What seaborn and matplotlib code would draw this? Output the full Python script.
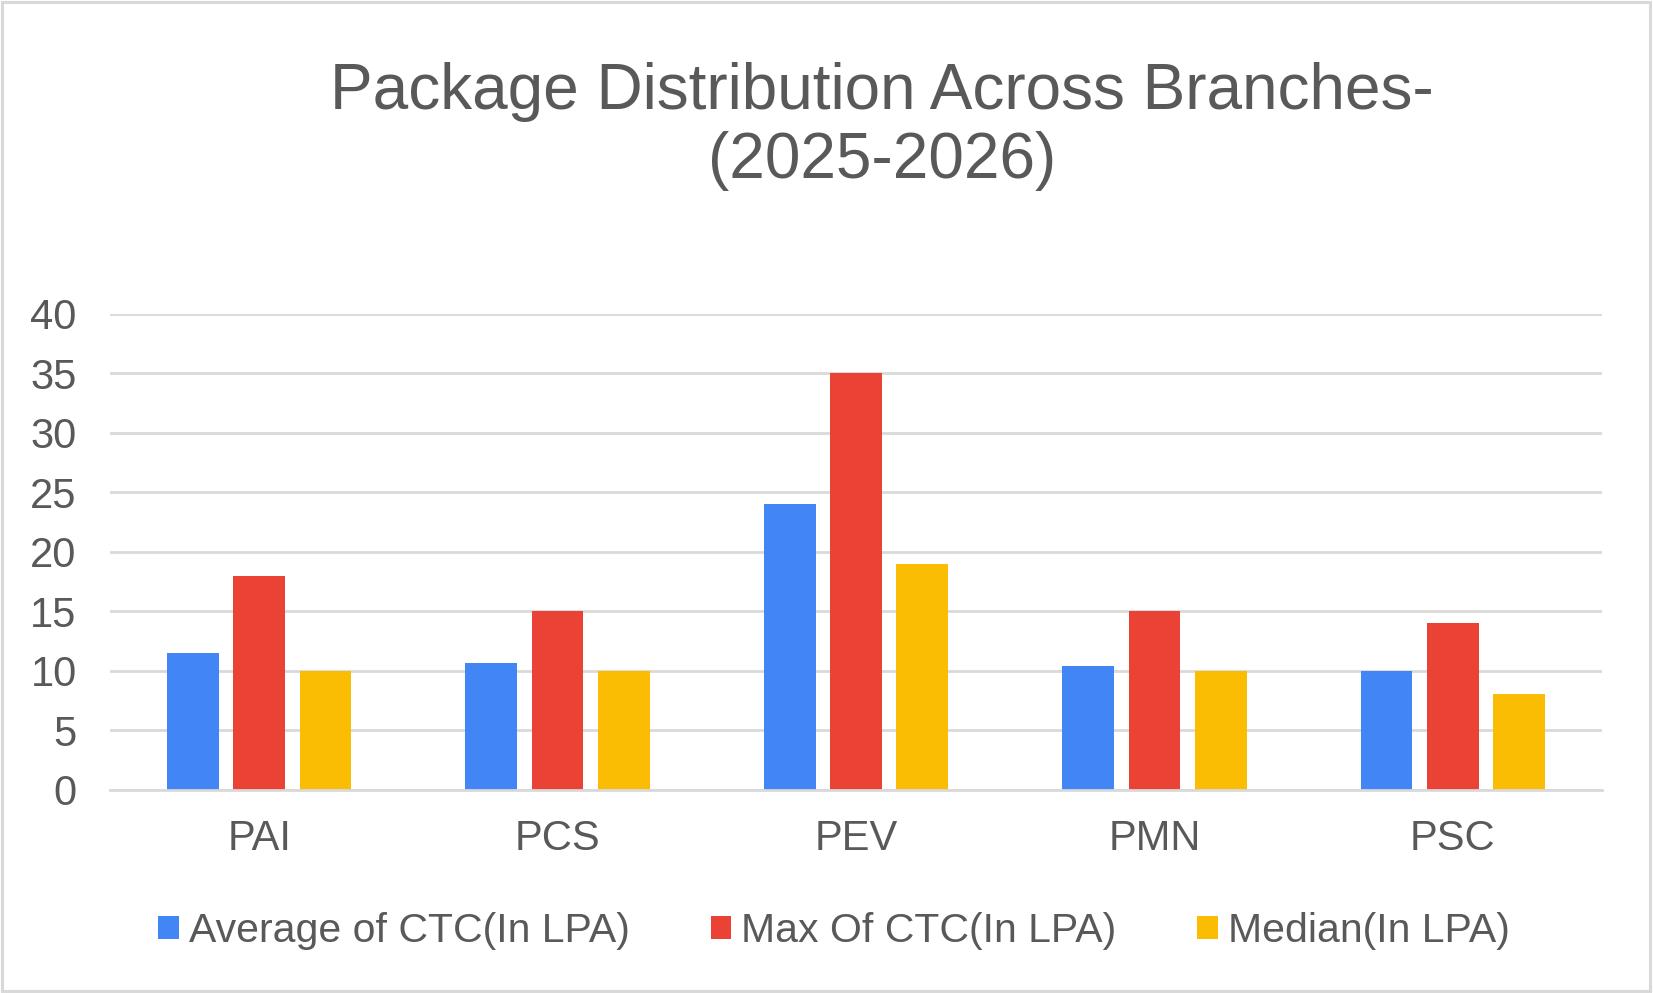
import matplotlib
matplotlib.use("Agg")
import matplotlib.pyplot as plt
import seaborn as sns
import pandas as pd
from matplotlib.patches import Rectangle

branches = ["PAI", "PCS", "PEV", "PMN", "PSC"]
series_names = ["Average of CTC(In LPA)", "Max Of CTC(In LPA)", "Median(In LPA)"]
avg_ctc = [11.5, 10.6, 24.0, 10.4, 10.0]
max_ctc = [18, 15, 35, 15, 14]
median_ctc = [10, 10, 19, 10, 8]
colors = ["#4285F4", "#EA4335", "#FBBC04"]
yticks = [0, 5, 10, 15, 20, 25, 30, 35, 40]

rows = []
for name, vals in zip(series_names, [avg_ctc, max_ctc, median_ctc]):
    for b, v in zip(branches, vals):
        rows.append({"Branch": b, "Series": name, "Value": v})
df = pd.DataFrame(rows)

sns.set_theme(style="white")
plt.rcParams["font.family"] = ["Liberation Sans", "DejaVu Sans"]
text_color = "#595959"
grid_color = "#D9D9D9"

fig = plt.figure(figsize=(16.53, 9.93), dpi=100)
fig.patch.set_facecolor("white")
ax = fig.add_axes([110/1653, 1-789.5/993, (1602-110)/1653, (789.5-314)/993])

sns.barplot(data=df, x="Branch", y="Value", hue="Series", order=branches,
            hue_order=series_names, palette=colors, width=0.667, gap=0.22,
            linewidth=0, saturation=1, ax=ax, legend=True)

ax.set_ylim(0, 40)
ax.set_xlim(-0.5, len(branches)-0.5)
ax.set_yticks(yticks)
ax.set_yticklabels([str(t) for t in yticks])
ax.yaxis.grid(True, color=grid_color, linewidth=2.0)
ax.set_axisbelow(True)
for s in ["top", "right", "left"]:
    ax.spines[s].set_visible(False)
ax.spines["bottom"].set_color(grid_color)
ax.spines["bottom"].set_linewidth(2.0)
ax.set_xlabel("")
ax.set_ylabel("")
ax.tick_params(axis="both", length=0, labelsize=30, colors=text_color)
ax.tick_params(axis="y", pad=24)
ax.tick_params(axis="x", pad=21)

handles, labels = ax.get_legend_handles_labels()
ax.get_legend().remove()
leg = fig.legend(handles, labels, loc="center", bbox_to_anchor=(834/1653, 1-931/993),
                 ncol=3, frameon=False, fontsize=29.5, handlelength=0.5, handleheight=0.5,
                 handletextpad=0.25, columnspacing=1.97, labelcolor=text_color)

fig.text(882/1653, 1-62/993, "Package Distribution Across Branches-\n(2025-2026)",
         ha="center", va="top", fontsize=46, color=text_color, linespacing=1.2)

fig.patches.append(Rectangle((0.001, 0.002), 0.997, 0.996, transform=fig.transFigure,
                             fill=False, edgecolor=grid_color, linewidth=2.2, zorder=10))

fig.savefig("out.png", dpi=100, facecolor="white")
